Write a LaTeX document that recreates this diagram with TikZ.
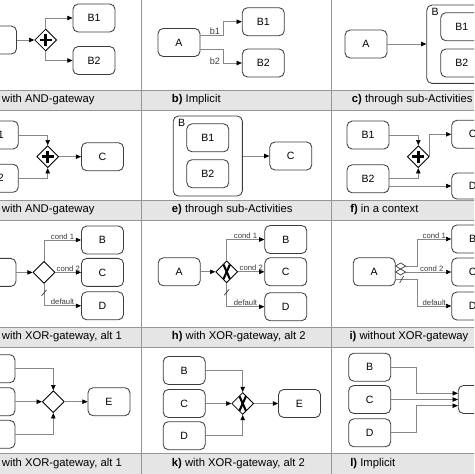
\documentclass[tikz,border=0pt]{standalone}
\usepackage{fontspec}
\setmainfont{Liberation Sans}
\usetikzlibrary{arrows.meta,positioning,calc,shapes.geometric}
\definecolor{boxline}{RGB}{60,60,60}
\definecolor{flowgray}{RGB}{135,135,135}
\definecolor{bargray}{RGB}{229,229,229}
\definecolor{rulegray}{RGB}{150,150,150}
\tikzset{
    act/.style={rectangle, draw=boxline, rounded corners=1.3mm, line width=0.6pt,
                minimum width=10.5mm, minimum height=7mm, inner sep=0pt,
                font=\fontsize{7.5}{9}\selectfont},
    sub/.style={act, minimum width=17.3mm, minimum height=#1},
    sublbl/.style={anchor=north west, inner sep=0pt, font=\fontsize{7.5}{9}\selectfont},
    gw/.style={diamond, draw=black, line width=0.6pt, fill=white, minimum size=5.5mm,
               inner sep=0pt},
    andgw/.style={gw, path picture={
        \draw[line width=2pt] ([xshift=-1.5mm]path picture bounding box.center)
            -- ([xshift=1.5mm]path picture bounding box.center);
        \draw[line width=2pt] ([yshift=-1.5mm]path picture bounding box.center)
            -- ([yshift=1.5mm]path picture bounding box.center);}},
    xorgw/.style={gw, path picture={
        \draw[line width=1.5pt] ([shift={(-0.8mm,-1.8mm)}]path picture bounding box.center)
            -- ([shift={(0.8mm,1.8mm)}]path picture bounding box.center);
        \draw[line width=1.5pt] ([shift={(-0.8mm,1.8mm)}]path picture bounding box.center)
            -- ([shift={(0.8mm,-1.8mm)}]path picture bounding box.center);}},
    arr/.style={draw=flowgray, line width=0.45pt,
                -{Triangle[length=1.3mm,width=1.1mm,color=black]}},
    lbl/.style={font=\fontsize{5.5}{6}\selectfont, inner sep=0.4pt, text=boxline},
    elbl/.style={font=\fontsize{6.5}{7}\selectfont, inner sep=0pt, text=boxline},
    flowmark/.style={draw=boxline, line width=0.5pt},
    captxt/.style={font=\fontsize{8}{9}\selectfont, anchor=west, inner sep=0pt},
}

\begin{document}
\begin{tikzpicture}[x=0.25mm, y=-0.25mm]
    \useasboundingbox (0,0) rectangle (474,474);
    \clip (0,0) rectangle (474,474);

    % caption bars and column rules
    \foreach \t/\b in {90/110,200/220,327/347,453/480}{
        \fill[bargray] (-10,\t) rectangle (490,\b);
        \draw[rulegray, line width=0.6pt] (-10,\t) -- (490,\t) (-10,\b) -- (490,\b);
    }
    \draw[rulegray, line width=0.6pt] (141.5,-10) -- (141.5,490) (331.5,-10) -- (331.5,490);

    % a) with AND-gateway
    \node[act] (aA) at (-4.5,40) {};
    \node[andgw] (aG) at (45.7,40) {};
    \node[act] (aB1) at (94,18) {B1};
    \node[act] (aB2) at (94,60.5) {B2};
    \draw[arr] (aA) -- (aG);
    \draw[arr] (aG.north) |- (aB1);
    \draw[arr] (aG.south) |- (aB2);
    \node[captxt] at (1.7,100) {with AND-gateway};

    % b) implicit
    \node[act] (bA) at (179,42.5) {A};
    \node[act] (bB1) at (263.3,21.7) {B1};
    \node[act] (bB2) at (263.3,63) {B2};
    \draw[arr] (bA.east |- 0,35) -- (223.3,35) |- (bB1);
    \draw[arr] (bA.east |- 0,49.3) -- (223.3,49.3) |- (bB2);
    \node[elbl] at (215,30.8) {b1};
    \node[elbl] at (215,61) {b2};
    \node[captxt] at (171.7,100) {\textbf{b)} Implicit};

    % c) through sub-activities
    \node[act] (cA) at (366,44) {A};
    \node[sub=19.6mm] (cB) at (461.4,44.2) {};
    \node[sublbl] at ($(cB.north west)+(5,3)$) {B};
    \node[act] (cB1) at (461.7,26.7) {B1};
    \node[act] (cB2) at (461.7,63) {B2};
    \draw[arr] (cA.east) -- (cA.east -| cB.west);
    \node[captxt] at (351.7,100) {\textbf{c)} through sub-Activities};

    % d) join with AND-gateway
    \node[act] (dB1) at (-2.7,135) {B1};
    \node[act] (dB2) at (-2.7,178.3) {B2};
    \node[andgw] (dG) at (47.7,156.7) {};
    \node[act] (dC) at (102.5,156.7) {C};
    \draw[arr] (dB1) -| (dG);
    \draw[arr] (dB2) -| (dG);
    \draw[arr] (dG) -- (dC);
    \node[captxt] at (1.7,210) {with AND-gateway};

    % e) join through sub-activities
    \node[sub=20mm] (eB) at (207.8,156) {};
    \node[sublbl] at ($(eB.north west)+(5,3)$) {B};
    \node[act] (eB1) at (207.8,137.8) {B1};
    \node[act] (eB2) at (207.8,173.7) {B2};
    \node[act] (eC) at (290.8,156) {C};
    \draw[arr] (eB) -- (eC);
    \node[captxt] at (171.7,210) {\textbf{e)} through sub-Activities};

    % f) in a context
    \node[act] (fB1) at (368,135) {B1};
    \node[act] (fB2) at (368,178.8) {B2};
    \node[andgw] (fG) at (418.3,156.7) {};
    \node[act] (fC) at (472.7,134.3) {C};
    \node[act, minimum height=6.5mm] (fD) at (472.7,186) {D};
    \draw[arr] (fB1) -| (fG);
    \draw[arr] (fB2.east |- 0,178.3) -| (fG);
    \draw[arr] (fG.east) |- (fC);
    \draw[arr] (fB2.east |- 0,186) -- (fD.west |- 0,186);
    \node[captxt] at (350,210) {\textbf{f)} in a context};

    % g) with XOR-gateway, alt 1
    \node[act] (gA) at (-5,272.4) {};
    \node[gw] (gG) at (44,272.4) {};
    \node[act] (gB) at (102.5,240) {B};
    \node[act] (gC) at (102.5,272.4) {C};
    \node[act] (gD) at (102.5,305.8) {D};
    \draw[arr] (gA) -- (gG);
    \draw[arr] (gG.north) |- node[lbl, above, pos=0.75] {cond 1} (gB);
    \draw[arr] (gG) -- node[lbl, above] {cond 2} (gC);
    \draw[arr] (gG.south) |- node[lbl, above, pos=0.75] {default} (gD);
    \draw[flowmark] ($(gG.south)+(-2.5,12)$) -- ($(gG.south)+(2.5,6)$);
    \node[captxt] at (1.7,337) {with XOR-gateway, alt 1};

    % h) with XOR-gateway, alt 2
    \node[act] (hA) at (179.2,271.8) {A};
    \node[xorgw] (hG) at (226.7,271.8) {};
    \node[act] (hB) at (285.8,239.5) {B};
    \node[act] (hC) at (285.8,271.8) {C};
    \node[act] (hD) at (285.8,306.7) {D};
    \draw[arr] (hA) -- (hG);
    \draw[arr] (hG.north) |- node[lbl, above, pos=0.75] {cond 1} (hB);
    \draw[arr] (hG) -- node[lbl, above] {cond 2} (hC);
    \draw[arr] (hG.south) |- node[lbl, above, pos=0.75] {default} (hD);
    \draw[flowmark] ($(hG.south)+(-2.5,12)$) -- ($(hG.south)+(2.5,6)$);
    \node[captxt] at (171.7,337) {\textbf{h)} with XOR-gateway, alt 2};

    % i) without XOR-gateway
    \node[act] (iA) at (374.2,271.8) {A};
    \node[act] (iB) at (472.7,239) {B};
    \node[act] (iC) at (472.7,272) {C};
    \node[act] (iD) at (472.7,306) {D};
    \draw[arr] (iA.east |- 0,266) -- (417.3,266) |- node[lbl, above, pos=0.75] {cond 1} (iB);
    \draw[arr] (iA.east |- 0,272) -- node[lbl, above, pos=0.65] {cond 2} (iC);
    \draw[arr] (iA.east |- 0,279) -- (417.3,279) |- node[lbl, above, pos=0.75] {default} (iD);
    \draw[flowmark, fill=white] (iA.east |- 0,266) -- ++(5,-3) -- ++(5,3) -- ++(-5,3) -- cycle;
    \draw[flowmark, fill=white] (iA.east |- 0,272) -- ++(5,-3) -- ++(5,3) -- ++(-5,3) -- cycle;
    \draw[flowmark] ($(iA.east |- 0,279)+(4,4)$) -- ++(4,-7);
    \node[captxt] at (349.3,337) {\textbf{i)} without XOR-gateway};

    % j) merge with XOR-gateway, alt 1
    \node[act] (jB) at (-6,368.7) {};
    \node[act] (jC) at (-6,401.7) {};
    \node[act] (jD) at (-6,434.3) {};
    \node[gw] (jG) at (53.3,401.7) {};
    \node[act] (jE) at (109,401.7) {E};
    \draw[arr] (jB) -| (jG);
    \draw[arr] (jC) -- (jG);
    \draw[arr] (jD) -| (jG);
    \draw[arr] (jG) -- (jE);
    \node[captxt] at (1.7,464) {with XOR-gateway, alt 1};

    % k) merge with XOR-gateway, alt 2
    \node[act] (kB) at (184.2,370.5) {B};
    \node[act] (kC) at (184.2,403.5) {C};
    \node[act] (kD) at (184.2,435.7) {D};
    \node[xorgw] (kG) at (242.7,403.5) {};
    \node[act] (kE) at (299.5,403.5) {E};
    \draw[arr] (kB) -| (kG);
    \draw[arr] (kC) -- (kG);
    \draw[arr] (kD) -| (kG);
    \draw[arr] (kG) -- (kE);
    \node[captxt] at (171.7,464) {\textbf{k)} with XOR-gateway, alt 2};

    % l) implicit merge
    \node[act] (lB) at (369.7,367.2) {B};
    \node[act] (lC) at (369.7,399.5) {C};
    \node[act] (lD) at (369.7,432.8) {D};
    \node[act] (lE) at (479.3,399.5) {};
    \draw[arr] (lB) -| (416,393.3) -- (lE.west |- 0,393.3);
    \draw[arr] (lC) -- (lE);
    \draw[arr] (lD) -| (416,405.7) -- (lE.west |- 0,405.7);
    \node[captxt] at (350,464) {\textbf{l)} Implicit};
\end{tikzpicture}
\end{document}
